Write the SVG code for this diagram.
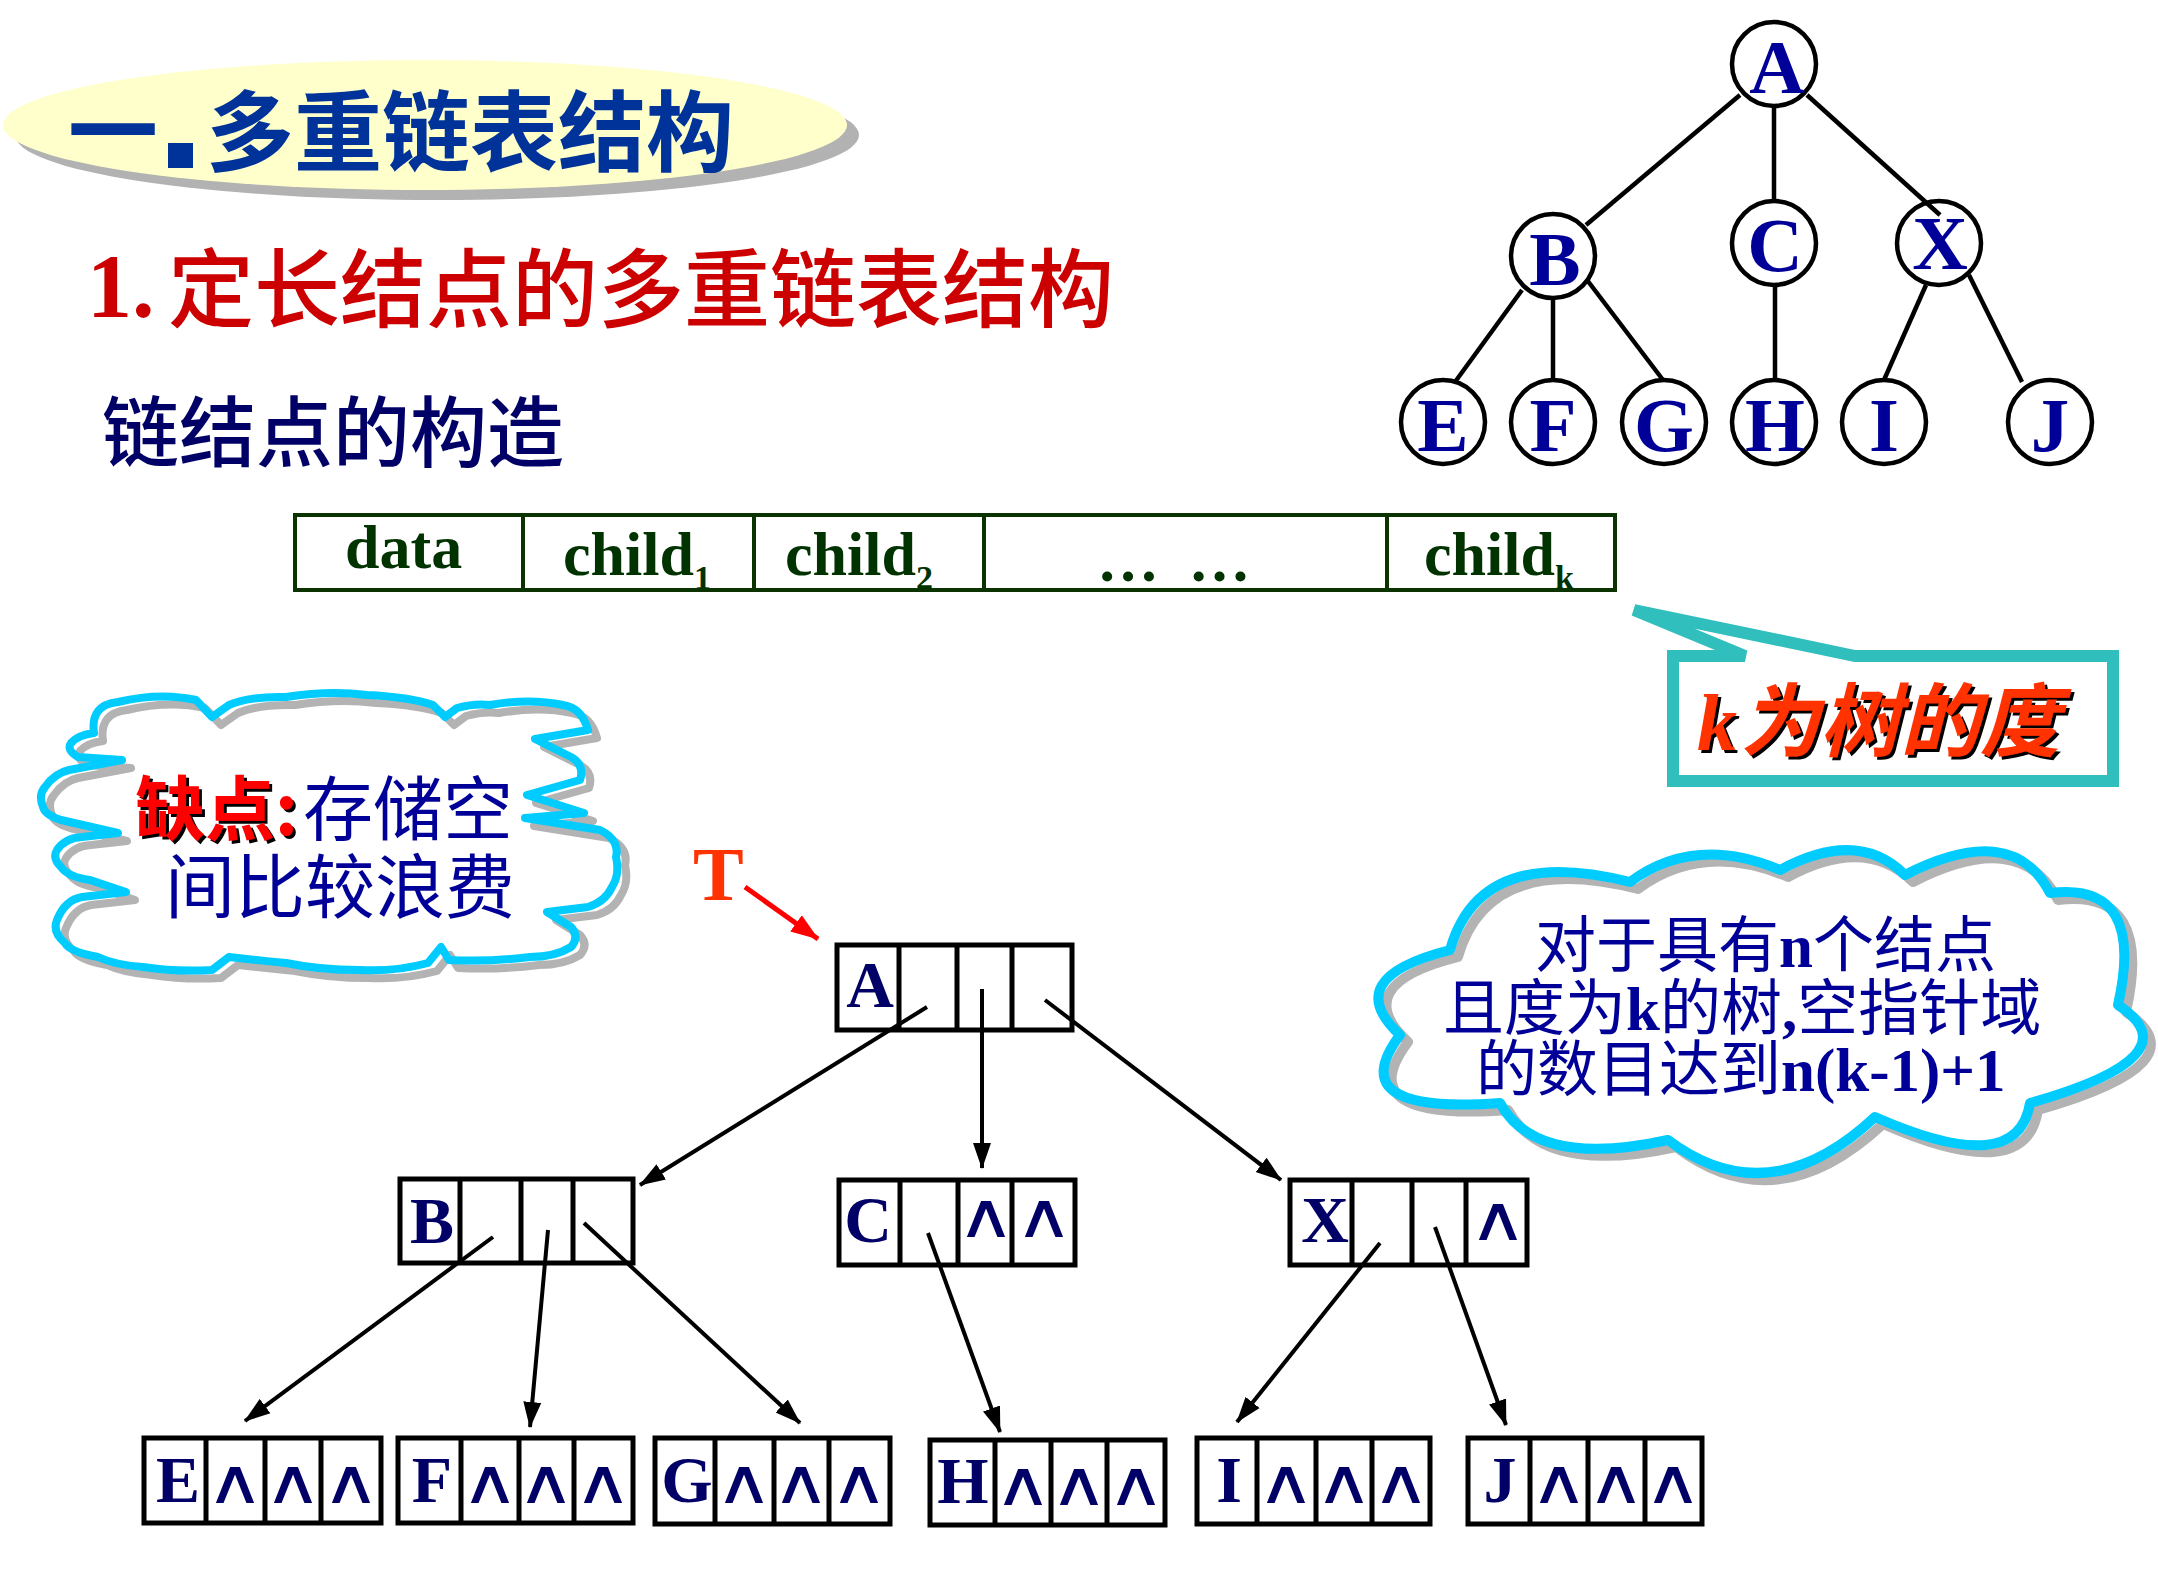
<svg xmlns="http://www.w3.org/2000/svg" width="2158" height="1580" viewBox="0 0 2158 1580">
<style>
.cjk{font-family:"Noto Sans CJK SC","Noto Sans",sans-serif}
.ser{font-family:"Liberation Serif","Times New Roman",serif;font-weight:bold}
.circ{fill:#fff;stroke:#000;stroke-width:4.5}
.tl{font-family:"Liberation Serif",serif;font-weight:bold;font-size:77px;fill:#000099;text-anchor:middle}
.tline{stroke:#000;stroke-width:4.5;fill:none}
.box{fill:#fff;stroke:#000;stroke-width:5}
.dv{stroke:#000;stroke-width:5;fill:none}
.lt{font-family:"Liberation Serif",serif;font-weight:bold;font-size:66px;fill:#000066;text-anchor:middle}
.nil{font-family:"DejaVu Sans",sans-serif;font-size:62px;fill:#000066;text-anchor:middle}
.con{stroke:#000;stroke-width:4;fill:none;marker-end:url(#ah)}
.tbl{fill:#fff;stroke:#0a3300;stroke-width:4}
.tt{font-family:"Liberation Serif",serif;font-weight:bold;font-size:62px;fill:#003300}
.sub{font-size:34px}
.ct{font-family:"Noto Sans CJK SC",sans-serif;font-size:61px;fill:#000099}
.ctl{font-family:"Liberation Serif",serif;font-weight:bold}
</style>
<defs>
<marker id="ah" markerUnits="userSpaceOnUse" markerWidth="26" markerHeight="20" viewBox="0 0 26 20" refX="25" refY="10" orient="auto"><path d="M0,1 L26,10 L0,19 Z" fill="#000"/></marker>
<marker id="ahr" markerUnits="userSpaceOnUse" markerWidth="28" markerHeight="22" viewBox="0 0 28 22" refX="27" refY="11" orient="auto"><path d="M0,1 L28,11 L0,21 Z" fill="#ff0000"/></marker>
<filter id="sh" x="-5%" y="-5%" width="115%" height="120%"><feDropShadow dx="3" dy="3" stdDeviation="0" flood-color="#000" flood-opacity="1"/></filter>
</defs>
<rect width="2158" height="1580" fill="#fff"/>

<g id="title">
<ellipse cx="437" cy="135" rx="422" ry="65" fill="#b2b2b2"/>
<ellipse cx="425" cy="125" rx="422" ry="65" fill="#ffffcc"/>
<text x="68" y="164" class="cjk" font-size="90" font-weight="bold" fill="#003399">一</text>
<rect x="168" y="143" width="25" height="25" fill="#003399"/>
<text x="206" y="164" class="cjk" font-size="88" font-weight="bold" fill="#003399">多重链表结构</text>
</g>

<g id="subtitle">
<text x="87" y="317" class="ser" font-size="90" fill="#cc0000">1.</text>
<text x="168" y="321" class="cjk" font-size="86" font-weight="500" fill="#cc0000">定长结点的多重链表结构</text>
</g>

<g id="caption">
<text x="102" y="461" class="cjk" font-size="77" font-weight="500" fill="#000066">链结点的构造</text>
</g>

<g id="node-struct">
<rect x="295" y="515" width="1320" height="75" class="tbl"/>
<path d="M523,515V590M754,515V590M984,515V590M1387,515V590" stroke="#0a3300" stroke-width="4"/>
<text x="345" y="568" class="tt">data</text>
<text x="563" y="575" class="tt">child<tspan class="sub" dy="14">1</tspan></text>
<text x="785" y="575" class="tt">child<tspan class="sub" dy="14">2</tspan></text>
<text x="1097" y="581" class="tt" font-size="72" word-spacing="14">… …</text>
<text x="1424" y="575" class="tt">child<tspan class="sub" dy="14">k</tspan></text>
</g>

<g id="tree">
<g class="tline">
<path d="M1740,95 L1586,225"/>
<path d="M1774,106 L1774,201"/>
<path d="M1522,290 L1455,382"/>
<path d="M1553,298 L1553,380"/>
<path d="M1581,272 L1663,380"/>
<path d="M1775,285 L1775,380"/>
<path d="M1926,285 L1884,380"/>
<path d="M1969,275 L2022,382"/>
</g>
<g id="tA"><ellipse cx="1774" cy="64" rx="42" ry="42" class="circ"/><text x="1777" y="93" class="tl">A</text></g>
<g id="tB"><ellipse cx="1553" cy="256" rx="42" ry="42" class="circ"/><text x="1555" y="285" class="tl">B</text></g>
<g id="tC"><ellipse cx="1774" cy="243" rx="42" ry="42" class="circ"/><text x="1775" y="271" class="tl">C</text></g>
<g id="tX"><ellipse cx="1939" cy="243" rx="42" ry="42" class="circ"/><text x="1940" y="269" class="tl">X</text></g>
<path d="M1807,95 L1940,215" class="tline"/>
<g id="tE"><ellipse cx="1443" cy="422" rx="42" ry="42" class="circ"/><text x="1443" y="451" class="tl">E</text></g>
<g id="tF"><ellipse cx="1553" cy="422" rx="42" ry="42" class="circ"/><text x="1553" y="451" class="tl">F</text></g>
<g id="tG"><ellipse cx="1664" cy="422" rx="42" ry="42" class="circ"/><text x="1664" y="451" class="tl">G</text></g>
<g id="tH"><ellipse cx="1774" cy="422" rx="42" ry="42" class="circ"/><text x="1775" y="451" class="tl">H</text></g>
<g id="tI"><ellipse cx="1884" cy="422" rx="42" ry="42" class="circ"/><text x="1884" y="451" class="tl">I</text></g>
<g id="tJ"><ellipse cx="2050" cy="422" rx="42" ry="42" class="circ"/><text x="2050" y="451" class="tl">J</text></g>
</g>

<g id="callout-k">
<path d="M1673,656 L1745,656 L1634,610 L1855,656 L2113,656 L2113,781 L1673,781 Z" fill="#fff" stroke="#30bfbd" stroke-width="12" stroke-linejoin="miter" stroke-miterlimit="4"/>
<text x="1697" y="750" font-size="80" fill="#ff3300" filter="url(#sh)"><tspan class="ser" font-style="italic">k</tspan><tspan x="1740" class="cjk" font-weight="bold" font-style="italic">为树的度</tspan></text>
</g>

<g id="cloud-left">
<defs>
<path id="lc" d="M94,733 Q90,705 118,702 Q160,692 196,700 L212,717 L229,705 Q250,696 286,697 Q330,690 367,695 Q410,697 433,705 L445,717 L457,708 Q475,703 490,705 Q530,698 563,705 Q582,708 588,730 L535,739 L571,757 Q585,765 580,780 L527,795 L584,813 L525,818 L600,830 Q620,840 616,857 Q620,875 612,887 Q605,902 588,907 L547,912 L571,927 Q580,937 571,947 Q555,957 530,957 Q490,962 449,960 L441,947 L428,963 Q395,972 359,970 Q320,970 286,963 Q255,960 229,957 L212,970 Q175,972 143,967 Q115,965 98,957 Q70,952 65,943 Q52,932 57,920 Q65,900 82,897 L126,892 L90,880 Q68,877 61,867 Q52,858 57,850 Q65,838 82,837 L118,833 L61,820 Q45,815 43,807 Q38,795 45,787 Q55,773 69,770 L122,760 L78,757 Q66,750 71,743 Q78,735 94,733 Z"/>
</defs>
<use href="#lc" fill="#fff"/>
<use href="#lc" transform="translate(9,8)" fill="none" stroke="#b3b3b3" stroke-width="8" stroke-linejoin="round"/>
<use href="#lc" fill="none" stroke="#00ccff" stroke-width="8" stroke-linejoin="round"/>
<text x="135" y="835" class="cjk" font-size="70"><tspan font-weight="bold" fill="#ff0000" filter="url(#sh)">缺点:</tspan><tspan x="303" fill="#000099">存储空</tspan></text>
<text x="165" y="913" class="cjk" font-size="70" fill="#000099">间比较浪费</text>
</g>

<g id="cloud-right">
<defs>
<path id="rc" d="M1450,950 Q1480,844 1630,882 Q1695,834 1780,870 Q1858,828 1905,875 Q2013,820 2050,893 Q2146,881 2118,1005 Q2196,1056 2030,1103 Q2018,1180 1875,1117 Q1769,1216 1668,1140 Q1536,1169 1500,1103 Q1340,1115 1400,1035 Q1339,978 1450,950 Z"/>
</defs>
<use href="#rc" fill="#fff"/>
<use href="#rc" transform="translate(8,7)" fill="none" stroke="#b3b3b3" stroke-width="10" stroke-linejoin="round"/>
<use href="#rc" fill="none" stroke="#00ccff" stroke-width="10" stroke-linejoin="round"/>
<text x="1535" y="967" class="ct">对于具有<tspan class="ctl">n</tspan>个结点</text>
<text x="1443" y="1030" class="ct">且度为<tspan class="ctl">k</tspan>的树<tspan class="ctl">,</tspan>空指针域</text>
<text x="1476" y="1091" class="ct">的数目达到<tspan class="ctl">n(k-1)+1</tspan></text>
</g>

<g id="T-label">
<text x="693" y="900" class="ser" font-size="76" fill="#ff3300">T</text>
</g>

<g id="nA">
<rect x="837" y="945" width="235" height="85" class="box"/>
<path d="M899,945V1030M957,945V1030M1012,945V1030" class="dv"/>
<text x="870" y="1007" class="lt">A</text>
</g>
<g id="nB">
<rect x="400" y="1179" width="233" height="84" class="box"/>
<path d="M460,1179V1263M521,1179V1263M573,1179V1263" class="dv"/>
<text x="432" y="1243" class="lt">B</text>
</g>
<g id="nC">
<rect x="839" y="1180" width="236" height="85" class="box"/>
<path d="M900,1180V1265M958,1180V1265M1012,1180V1265" class="dv"/>
<text x="868" y="1242" class="lt">C</text>
<text transform="translate(986,1237) scale(1.3,1)" class="nil">∧</text>
<text transform="translate(1044,1237) scale(1.3,1)" class="nil">∧</text>
</g>
<g id="nX">
<rect x="1290" y="1180" width="237" height="85" class="box"/>
<path d="M1352,1180V1265M1412,1180V1265M1466,1180V1265" class="dv"/>
<text x="1325" y="1242" class="lt">X</text>
<text transform="translate(1498,1240) scale(1.3,1)" class="nil">∧</text>
</g>

<g id="nE">
<rect x="144" y="1438" width="237" height="85" class="box"/>
<path d="M206,1438V1523M265,1438V1523M321,1438V1523" class="dv"/>
<text x="178" y="1502" class="lt">E</text>
<text transform="translate(235,1503) scale(1.3,1)" class="nil">∧</text><text transform="translate(293,1503) scale(1.3,1)" class="nil">∧</text><text transform="translate(351,1503) scale(1.3,1)" class="nil">∧</text>
</g>
<g id="nF">
<rect x="398" y="1438" width="235" height="85" class="box"/>
<path d="M461,1438V1523M519,1438V1523M574,1438V1523" class="dv"/>
<text x="432" y="1502" class="lt">F</text>
<text transform="translate(490,1503) scale(1.3,1)" class="nil">∧</text><text transform="translate(546,1503) scale(1.3,1)" class="nil">∧</text><text transform="translate(603,1503) scale(1.3,1)" class="nil">∧</text>
</g>
<g id="nG">
<rect x="655" y="1438" width="235" height="86" class="box"/>
<path d="M715,1438V1524M774,1438V1524M829,1438V1524" class="dv"/>
<text x="687" y="1502" class="lt">G</text>
<text transform="translate(744,1503) scale(1.3,1)" class="nil">∧</text><text transform="translate(801,1503) scale(1.3,1)" class="nil">∧</text><text transform="translate(859,1503) scale(1.3,1)" class="nil">∧</text>
</g>
<g id="nH">
<rect x="930" y="1440" width="235" height="85" class="box"/>
<path d="M995,1440V1525M1051,1440V1525M1107,1440V1525" class="dv"/>
<text x="963" y="1503" class="lt">H</text>
<text transform="translate(1023,1505) scale(1.3,1)" class="nil">∧</text><text transform="translate(1079,1505) scale(1.3,1)" class="nil">∧</text><text transform="translate(1136,1505) scale(1.3,1)" class="nil">∧</text>
</g>
<g id="nI">
<rect x="1197" y="1438" width="233" height="86" class="box"/>
<path d="M1257,1438V1524M1316,1438V1524M1372,1438V1524" class="dv"/>
<text x="1229" y="1502" class="lt">I</text>
<text transform="translate(1286,1503) scale(1.3,1)" class="nil">∧</text><text transform="translate(1344,1503) scale(1.3,1)" class="nil">∧</text><text transform="translate(1401,1503) scale(1.3,1)" class="nil">∧</text>
</g>
<g id="nJ">
<rect x="1468" y="1438" width="234" height="86" class="box"/>
<path d="M1530,1438V1524M1588,1438V1524M1645,1438V1524" class="dv"/>
<text x="1500" y="1502" class="lt">J</text>
<text transform="translate(1559,1503) scale(1.3,1)" class="nil">∧</text><text transform="translate(1616,1503) scale(1.3,1)" class="nil">∧</text><text transform="translate(1673,1503) scale(1.3,1)" class="nil">∧</text>
</g>

<g id="connectors">
<path d="M745,887 L818,939" stroke="#ff0000" stroke-width="5" fill="none" marker-end="url(#ahr)"/>
<path d="M927,1007 L640,1185" class="con"/>
<path d="M982,989 L982,1168" class="con"/>
<path d="M1045,1000 L1281,1180" class="con"/>
<path d="M493,1237 L245,1421" class="con"/>
<path d="M548,1230 L530,1427" class="con"/>
<path d="M584,1223 L800,1423" class="con"/>
<path d="M928,1233 L1000,1432" class="con"/>
<path d="M1380,1243 L1237,1422" class="con"/>
<path d="M1435,1227 L1506,1425" class="con"/>
</g>
</svg>
